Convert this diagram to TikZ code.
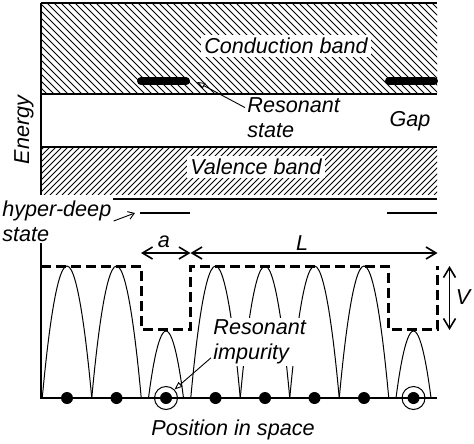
\documentclass[tikz,border=0pt]{standalone}
\usepackage{fontspec}
\setmainfont{Liberation Sans}
\usetikzlibrary{arrows.meta,positioning}

\begin{document}
\begin{tikzpicture}[x=0.5pt,y=-0.5pt,
    lbl/.style={font=\fontsize{10.8}{12.5}\selectfont\itshape,inner sep=1pt,align=left},
    bandlbl/.style={lbl,fill=white,inner sep=1.5pt},
    hatch/.style={line width=0.4pt},
    edge/.style={line width=0.7pt},
    level/.style={line width=4pt,line cap=round},
    pot/.style={line width=1.5pt,dash pattern=on 5pt off 2.5pt},
    wave/.style={line width=0.5pt},
    atom/.style={circle,fill=black,inner sep=0pt,minimum size=6pt},
    ring/.style={circle,draw,line width=0.5pt,inner sep=0pt,minimum size=11.5pt},
    dim/.style={line width=0.8pt,{Straight Barb[length=5pt,width=6pt]}-{Straight Barb[length=5pt,width=6pt]}},
    pointer/.style={line width=0.45pt,-{Triangle[open,length=4pt,width=3pt]}}]

\useasboundingbox (0,0) rectangle (474,443);

% conduction band
\begin{scope}
  \clip (41,3) rectangle (437,94);
  \foreach \i in {-100,-93,...,440}
    \draw[hatch] (\i,3) -- ++(95,95);
\end{scope}
% valence band
\begin{scope}
  \clip (41,147) rectangle (437,194);
  \foreach \i in {-10,-4,...,440}
    \draw[hatch] (\i,195) -- ++(50,-50);
\end{scope}
% band edges
\draw[edge] (41,3) -- (437,3);
\draw[edge] (41,94) -- (437,94);
\draw[edge] (41,147) -- (437,147);
\draw[edge] (113,199) -- (437,199);
\draw[edge] (41,3) -- (41,195);

% resonant levels
\draw[level] (141,81) -- (186,81);
\draw[level] (389,81) -- (434,81);

\node[bandlbl] (cb) at (286,46) {Conduction band};
\node[bandlbl] (vb) at (256,167) {Valence band};
\node[lbl] (gap) at (410,121) {Gap};
\node[lbl,rotate=90] (energy) at (24,130) {Energy};
\node[lbl,anchor=west] (rs) at (245,118) {Resonant\\state};
\coordinate (rsend) at (197,82);
\draw[pointer] ([yshift=-6pt]rs.north west) -- (rsend);

% hyper-deep levels
\draw[line width=0.6pt] (140,213) -- (190,213);
\draw[line width=1.2pt] (387,213) -- (437,213);
\node[lbl,anchor=west] (hd) at (0,221) {hyper-deep\\state};
\coordinate (hdend) at (135,213);
\draw[line width=0.45pt,-{Straight Barb[length=3pt,width=4pt]}] (hd.east) -- (hdend);

% position axis
\draw[edge] (41,243) -- (41,398) -- (437,398);

% potential profile
\draw[pot] (41,266) -- (141,266) -- (141,329) -- (190.5,329) -- (190.5,266)
  -- (388.5,266) -- (388.5,329) -- (437.5,329) -- (437.5,266);

% wavefunctions
\foreach \x in {67,116.5,215.5,265,314.5,364}
  \draw[wave] (\x-24.75,398) parabola bend (\x,266) (\x+24.75,398);
\foreach \x in {166,413.5}
  \draw[wave] (\x-17.5,398) parabola bend (\x,331) (\x+17.5,398);

% atoms
\foreach \x [count=\k] in {67,116.5,166,215.5,265,314.5,364,413.5}
  \node[atom] (at\k) at (\x,398) {};
\node[ring] (imp1) at (at3) {};
\node[ring] (imp2) at (at8) {};

\node[lbl,fill=white,anchor=west] (ri) at (211,342) {Resonant\\impurity};
\draw[pointer] (ri.198) -- (imp1.north east);

% dimensions
\coordinate (a1) at (141,253);
\coordinate (a2) at (190.5,253);
\coordinate (l2) at (437.5,253);
\draw[dim] (a1) -- (a2);
\draw[dim] (a2) -- (l2);
\node[lbl] (alab) at (164,242) {a};
\node[lbl] (llab) at (302,243) {L};
\coordinate (vtop) at (449.5,266);
\coordinate (vbot) at (449.5,330);
\draw[dim] (vtop) -- (vbot);
\node[lbl] (vlab) at (463,297) {V};

\node[lbl] (pos) at (233,430) {Position in space};
\end{tikzpicture}
\end{document}
